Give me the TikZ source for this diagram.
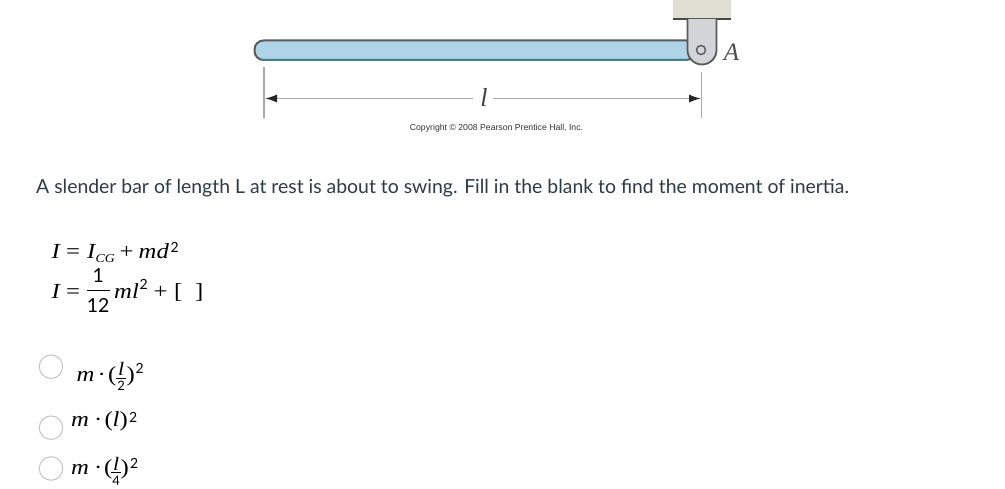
\documentclass[tikz,border=0pt]{standalone}
\usepackage{fontspec}
\setmainfont{Lato}
\newfontfamily\serifit[FakeStretch=1.15]{Liberation Serif}
\newfontfamily\serifplain{Liberation Serif}
\newfontfamily\sansc{Liberation Sans}
\usetikzlibrary{arrows.meta}
\definecolor{barblue}{HTML}{AFD4E6}
\definecolor{bardark}{HTML}{3F7F99}
\definecolor{edgegray}{HTML}{5A5A5A}
\definecolor{blockc}{HTML}{DFDFD3}
\definecolor{pivotc}{HTML}{D2D4D8}
\definecolor{dimc}{HTML}{A8A8A8}
\definecolor{radioc}{HTML}{C4C4C4}
\definecolor{textc}{HTML}{2D3B45}
% place a piece of an expression at an offset from the node's origin
\newcommand{\ppos}[3]{\rlap{\hspace{#1pt}\raisebox{#2pt}{#3}}}
\newcommand{\pcen}[3]{\rlap{\hspace{#1pt}\raisebox{#2pt}{\makebox[0pt]{#3}}}}
\newcommand{\mv}[1]{{\fontsize{21.5}{21.5}\selectfont\serifit\itshape #1}}
\newcommand{\mr}[1]{{\fontsize{21.5}{21.5}\selectfont\serifit #1}}
\newcommand{\msb}[1]{{\fontsize{12}{12}\selectfont\serifit\itshape #1}}
\newcommand{\mnum}[1]{{\fontsize{19.4}{19.4}\selectfont #1}}
\newcommand{\mtwo}{{\fontsize{14}{14}\selectfont 2}}
\newcommand{\msm}[1]{{\fontsize{13}{13}\selectfont #1}}
\newcommand{\mell}{{\fontsize{19}{19}\selectfont\serifit\itshape l}}
\tikzset{
  radio/.style={circle,draw=radioc,line width=1pt,fill=white,minimum size=23.5pt,inner sep=0pt},
  dimline/.style={draw=dimc,line width=1.5pt},
  dimarrow/.style={dimline,-{Latex[length=12pt,width=8pt,black!85]}},
  eq/.style={inner sep=0pt,anchor=base west,text=black},
}
\begin{document}
\begin{tikzpicture}[x=1pt,y=-1pt]
\useasboundingbox (0,0) rectangle (1005,489);
\fill[white] (0,0) rectangle (1005,489);
% bar
\draw[draw=edgegray,line width=2pt,fill=barblue,rounded corners=9pt] (254.5,40.5) -- (254.5,60) -- (695,60) -- (695,40.5) -- cycle;
\draw[bardark,line width=1.4pt] (262,60) -- (688,60);
% block
\fill[blockc] (673,0) rectangle (731,18);
\draw[edgegray!80!black,line width=1.6pt] (673,19) -- (731,19);
% pivot
\draw[draw=edgegray,line width=1.8pt,fill=pivotc] (687.5,19) -- (687.5,50) arc[start angle=180,end angle=0,radius=14.5] -- (716.5,19);
\node[circle,draw=edgegray,line width=1.4pt,fill=pivotc,minimum size=9pt,inner sep=0pt] (pin) at (701,50) {};
\node[inner sep=0pt,font=\serifplain\itshape\fontsize{25}{25}\selectfont,text=black!70] (A) at (731.5,52) {A};
% dimensions
\coordinate (lt) at (264,67); \coordinate (lb) at (264,118);
\coordinate (rt) at (701.5,72); \coordinate (rb) at (701.5,118);
\coordinate (la) at (265,98.5); \coordinate (ra) at (701,98.5);
\draw[dimline] (lt) -- (lb);
\draw[dimline] (rt) -- (rb);
\node[inner sep=0pt,font=\serifplain\itshape\fontsize{26}{26}\selectfont,text=black!75] (ell) at (484,97.5) {l};
\coordinate (lg) at (473,98.5); \coordinate (rg) at (493,98.5);
\draw[dimarrow] (lg) -- (la);
\draw[dimarrow] (rg) -- (ra);
\node[inner sep=0pt,font=\sansc\fontsize{8.7}{8.7}\selectfont,text=black!80] (copy) at (496.5,128) {Copyright © 2008 Pearson Prentice Hall, Inc.};
% question
\node[inner sep=0pt,anchor=base west,text=textc,font=\fontsize{19.4}{19.4}\selectfont] (q) at (36,193.5) {A slender bar of length L at rest is about to swing. Fill in the blank to find the moment of inertia.};
% equations
\node[eq] (e1) at (51.5,258.3) {\makebox[127pt][l]{%
  \ppos{0}{0}{\mv{I}}\ppos{14.5}{0}{\mr{=}}\ppos{35.5}{0}{\mv{I}}\ppos{44}{-4.5}{\msb{CG}}%
  \ppos{68}{0}{\mr{+}}\ppos{87}{0}{\mv{md}}\ppos{119}{5.5}{\mtwo}}};
\node[eq] (e2) at (51.5,298.3) {\makebox[148pt][l]{%
  \ppos{0}{0}{\mv{I}}\ppos{14.5}{0}{\mr{=}}%
  \ppos{35.5}{0}{\rule[7pt]{23pt}{1pt}}\pcen{46.5}{16}{\mnum{1}}\pcen{46.5}{-14}{\mnum{12}}%
  \ppos{62.5}{0}{\mv{ml}}\ppos{88}{8.5}{\mtwo}\ppos{102}{0}{\mr{+}}%
  \ppos{122.5}{0}{\mr{[}}\ppos{143.5}{0}{\mr{]}}}};
% options
\node[radio] (r1) at (51,366.7) {};
\node[radio] (r2) at (51,427.7) {};
\node[radio] (r3) at (51,468.5) {};
\node[eq] (o1) at (76.5,381.5) {\makebox[70pt][l]{%
  \ppos{0}{0}{\mv{m}}\ppos{21}{0}{\mr{·}}\ppos{31.5}{0}{\mr{(}}%
  \ppos{39.5}{0}{\rule[2.5pt]{10pt}{0.8pt}}\pcen{44.5}{6}{\mell}\pcen{44.5}{-9}{\msm{2}}%
  \ppos{50}{0}{\mr{)}}\ppos{59}{8}{\mtwo}}};
\node[eq] (o2) at (71,426.5) {\makebox[66pt][l]{%
  \ppos{0}{0}{\mv{m}}\ppos{23}{0}{\mr{·}}\ppos{33.5}{0}{\mr{(}}\ppos{41.5}{0}{\mv{l}}%
  \ppos{48.5}{0}{\mr{)}}\ppos{58}{4.5}{\mtwo}}};
\node[eq] (o3) at (71,474.3) {\makebox[66pt][l]{%
  \ppos{0}{0}{\mv{m}}\ppos{23}{0}{\mr{·}}\ppos{33}{0}{\mr{(}}%
  \ppos{40}{0}{\rule[1.8pt]{10pt}{0.8pt}}\pcen{45}{3.5}{\mell}\pcen{45}{-11}{\msm{4}}%
  \ppos{49.5}{0}{\mr{)}}\ppos{59}{5.5}{\mtwo}}};
\end{tikzpicture}
\end{document}
